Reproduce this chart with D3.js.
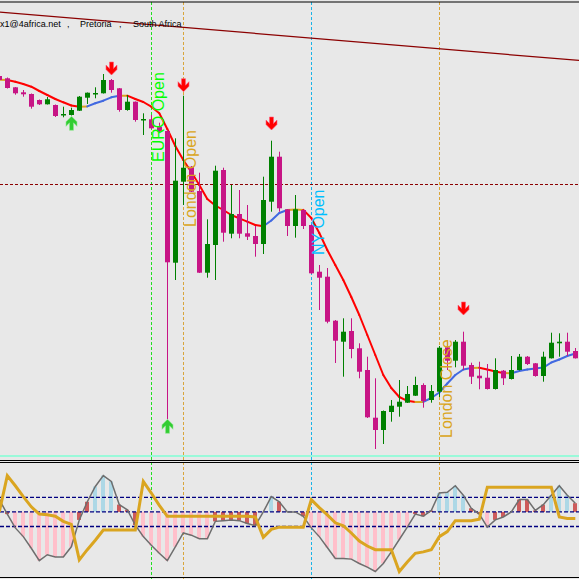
<!DOCTYPE html>
<html>
<head>
<meta charset="utf-8">
<script src="https://cdn.jsdelivr.net/npm/d3@7/dist/d3.min.js"></script>
<style>
  body { margin: 0; background: #e8e8e8; }
  svg { display: block; }
  text { font-family: 'Liberation Sans', Arial, sans-serif; }
</style>
</head>
<body>
<svg></svg>
<script>
// price data, one entry per bar
var opens  = [384,381.7,372.7,367.7,366,360,355.7,355,345,345,349.3,362.3,366.5,366.7,380,371.7,350,358.3,340.5,340.7,333.3,329,197.3,278.3,293.3,269,187.3,215,290,226.3,246,226.7,224,216,258.3,303.3,250.7,234,250,235,188.3,183.3,139.3,118.3,129,111.7,90,42.3,30,48,53.3,57.3,64.3,75,60,68.3,112.7,99.3,118.3,95,84.3,82.3,71,89.3,81,90,103.3,96.7,84,101.7,116.7,118.3,109]
var highs  = [386,382.5,373,370,366.5,360.5,363,355.5,353.3,352.3,364,367.5,372.7,386,381,372,365,358.5,346.7,345,337.3,330,321.7,364.3,294,287.3,240.7,294.3,292.3,275,270,255,234,283.3,319.3,308.3,251,265,250.5,235.5,195,192,140,141.7,141.7,116.7,103.3,81.7,49.5,60,80,74,83.3,76.7,75,114,120,120,128.3,97.3,98.3,96,101.7,90,104,106,104,97,108.3,127.3,126.7,127.3,112]
var lows   = [379,371.5,365.3,363.3,351.3,355,355.5,343,342.7,344.5,349,356,361.7,366.5,367.3,348.3,349.3,338.3,325,331,328,41,180,255,268,187,182.3,180,218.3,221.7,221.7,220,203.3,206,248.3,248.3,224,222.3,231,186,150,136.7,97,83.3,101.7,81.7,42,11,16,38.3,43.3,57,64,52.3,57.3,63,90,92.7,90,76,70.7,70.5,70.5,75,80.5,89.5,95,83.3,78.3,101.5,103.3,104,101.5]
var closes = [380,372,366.7,365.7,353.3,355.7,360.7,344,346,350,363.3,367.3,367,380,370,350,358.3,340,341,331.7,328.3,197.7,279.3,292.3,268.3,187.3,216,289.3,227.3,246,226.3,223.3,216,260,303.3,251.7,234,250.7,234,186.7,182.3,138.3,119.3,128.3,111,88.3,42.7,30,49,54.3,58.3,66,75,59,69,112.3,99.3,118.3,94.3,83.3,81.7,71,90,81.7,90,103.3,96,84,103.3,117.3,118.3,108.3,101.7]

// smoothed moving average
var maValues = [380.2,380,378.3,376,373.3,369,365,361,357.7,354.5,353.3,353.6,356.7,359.3,362.7,364.3,364.3,361,358,353.3,346.7,331,314,300,288,275,261,254.5,250,245,241.7,238.3,235,233.7,239.5,247,250,250.4,250.1,242,227,210,195,180,163,145,125,105,85,72,63,59.2,58.1,58.1,62,67.5,76.5,85,90.5,92,92.2,90.5,88.5,87,86.7,89,90.4,91.4,92.4,97.5,100.5,104,106.5]

// oscillator window
var oscGray = [17,-3,-22,-34,-50,-67,-59,-62,-62,-48,-11,14,35,50,42,10,3,-18,-34,-46,-57,-67,-48,-29,-32,-37,-37,-13,-12,-11,-12,-16,-19,0,21,14,0,0,-6,-22,-34,-49,-64,-64,-65,-71,-76,-82,-71,-55,-38,-21,-3,-6,2,26,27,36,23,5,-3,-21,-11,-7,0,17,17,2,10,23,36,23,12]
var oscGold = [0,50,36,21,7,-3,-4,-6,-13,-17,-66,-52,-39,-25,-25,-25,-25,-25,42,26,9,-6,-6,-6,-6,-6,-6,-6,-6,-6,-6,-6,-7,-35,-24,-21,-21,-21,-21,17,6,-4,-15,-19,-29,-40,-47,-52,-52,-52,-82,-69,-57,-55,-52,-34,-27,-12,-12,-12,-10,34,34,34,34,34,34,34,34,34,-7,-9,-9]
var oscLevels = [20, 0, -20]

// signals
var downArrowBars = [14, 23, 34, 58]
var downArrowPrices = [385, 368.3, 330, 145]
var upArrowBars = [9, 21]
var upArrowPrices = [343.7, 40.7]

// session markers
var sessionBars = [19, 23, 39, 55]
var sessionLabels = ['EURO Open', 'London Open', 'NY Open', 'London Close']

// other objects
var hLinePrice = 276
var trendBars = [0, 72.5]
var trendPrices = [448, 399.5]
var headerParts = ['x1@4africa.net', ',', 'Pretoria', ',', 'South Africa']

var svgWidth = 579, svgHeight = 579
var sessionColors = ['#00ff00', '#daa520', '#00bfff', '#daa520']
var lineColors = ['#22e022', '#d9a53a', '#1ab4e8', '#d9a53a']
var bullColor = '#008000', bearColor = '#c71585'

var svg = d3.select('svg')
    .attr('width', svgWidth)
    .attr('height', svgHeight)

svg.append('rect')
    .attr('width', svgWidth)
    .attr('height', svgHeight)
    .attr('fill', '#e8e8e8')

var bars = d3.range(opens.length)
var xScale = d3.scaleLinear().domain([0, 72]).range([-0.7, 575.3])
var yScale = d3.scaleLinear().domain([0, 460]).range([460, 0])
var oscScale = d3.scaleLinear().domain([-91, 66]).range([578, 464])
function px(i) { return Math.round(xScale(i)) }

var defs = svg.append('defs')
defs.append('clipPath').attr('id', 'mainClip')
    .append('rect').attr('x', 0).attr('y', 3).attr('width', svgWidth).attr('height', 452)
defs.append('clipPath').attr('id', 'oscClip')
    .append('rect').attr('x', 0).attr('y', 463).attr('width', svgWidth).attr('height', 115)

// session lines run through both windows
svg.selectAll('.session')
    .data(sessionBars)
    .enter()
    .append('line')
    .attr('class', 'session')
    .attr('x1', function(d) { return px(d) + 0.5 })
    .attr('x2', function(d) { return px(d) + 0.5 })
    .attr('y1', 2)
    .attr('y2', svgHeight)
    .attr('stroke', function(d, i) { return lineColors[i] })
    .attr('stroke-dasharray', '3,2')

var main = svg.append('g').attr('clip-path', 'url(#mainClip)')

// horizontal level
main.append('line')
    .attr('x1', 0).attr('x2', svgWidth)
    .attr('y1', Math.round(yScale(hLinePrice)) + 0.5)
    .attr('y2', Math.round(yScale(hLinePrice)) + 0.5)
    .attr('stroke', '#8b0000')
    .attr('stroke-dasharray', '3,2')

// trend line
main.append('line')
    .attr('x1', xScale(trendBars[0])).attr('y1', yScale(trendPrices[0]))
    .attr('x2', xScale(trendBars[1])).attr('y2', yScale(trendPrices[1]))
    .attr('stroke', '#8b0000')
    .attr('stroke-width', 1.2)

// moving average, coloured by slope
main.append('g')
    .selectAll('line')
    .data(d3.pairs(bars))
    .enter()
    .append('line')
    .attr('x1', function(d) { return xScale(d[0]) })
    .attr('y1', function(d) { return yScale(maValues[d[0]]) })
    .attr('x2', function(d) { return xScale(d[1]) })
    .attr('y2', function(d) { return yScale(maValues[d[1]]) })
    .attr('stroke', function(d) {
        var diff = maValues[d[1]] - maValues[d[0]]
        if (diff > 0.6) return '#4169e1'
        if (diff < -0.6) return '#ff0000'
        return '#daa520'
    })
    .attr('stroke-width', 2)
    .attr('stroke-linecap', 'round')

function candleColor(i) { return closes[i] >= opens[i] ? bullColor : bearColor }

// wicks
main.append('g')
    .selectAll('line')
    .data(bars)
    .enter()
    .append('line')
    .attr('x1', function(i) { return px(i) + 0.5 })
    .attr('x2', function(i) { return px(i) + 0.5 })
    .attr('y1', function(i) { return yScale(highs[i]) })
    .attr('y2', function(i) { return yScale(lows[i]) })
    .attr('stroke', candleColor)

// bodies
main.append('g')
    .selectAll('rect')
    .data(bars)
    .enter()
    .append('rect')
    .attr('x', function(i) { return px(i) - 2 })
    .attr('width', 5)
    .attr('y', function(i) { return yScale(Math.max(opens[i], closes[i])) })
    .attr('height', function(i) { return Math.max(1.5, Math.abs(yScale(opens[i]) - yScale(closes[i]))) })
    .attr('fill', candleColor)

// arrows (tip at 0,0)
var downPath = 'M-2,-13 L2,-13 L2,-6.5 L5.5,-10 L5.5,-5.5 L0,0 L-5.5,-5.5 L-5.5,-10 L-2,-6.5 Z'
var upPath = 'M-2,14 L2,14 L2,6.5 L5.5,10 L5.5,5.5 L0,0 L-5.5,5.5 L-5.5,10 L-2,6.5 Z'

main.selectAll('.down')
    .data(downArrowBars)
    .enter()
    .append('path')
    .attr('class', 'down')
    .attr('d', downPath)
    .attr('transform', function(d, i) { return 'translate(' + [px(d) + 0.5, yScale(downArrowPrices[i])] + ')' })
    .attr('fill', '#ff0000')
    .attr('stroke', '#ff5a7a')
    .attr('stroke-width', 0.6)

main.selectAll('.up')
    .data(upArrowBars)
    .enter()
    .append('path')
    .attr('class', 'up')
    .attr('d', upPath)
    .attr('transform', function(d, i) { return 'translate(' + [px(d) + 0.5, yScale(upArrowPrices[i])] + ')' })
    .attr('fill', '#32cd32')
    .attr('stroke', '#8fe88f')
    .attr('stroke-width', 0.6)

// session labels, rotated
var labelStart = [162, 227, 255, 438]
main.selectAll('.label')
    .data(sessionLabels)
    .enter()
    .append('text')
    .attr('class', 'label')
    .attr('transform', function(d, i) { return 'translate(' + [px(sessionBars[i]) + 13, labelStart[i]] + ') rotate(-90)' })
    .attr('font-size', 16)
    .attr('fill', function(d, i) { return sessionColors[i] })
    .text(function(d) { return d })

// header text
var headerX = [0, 67, 80, 119, 133]
svg.append('text')
    .attr('y', 27)
    .attr('font-size', 9)
    .attr('fill', '#000')
    .selectAll('tspan')
    .data(headerParts)
    .enter()
    .append('tspan')
    .attr('x', function(d, i) { return headerX[i] })
    .text(function(d) { return d })

// frame lines
svg.append('line').attr('x1', 0).attr('x2', svgWidth).attr('y1', 2).attr('y2', 2).attr('stroke', '#000')
svg.append('line').attr('x1', 0).attr('x2', svgWidth).attr('y1', 456).attr('y2', 456).attr('stroke', '#7fffd4').attr('stroke-width', 1.5)
svg.append('line').attr('x1', 0).attr('x2', svgWidth).attr('y1', 460.5).attr('y2', 460.5).attr('stroke', '#000')
svg.append('line').attr('x1', 0).attr('x2', svgWidth).attr('y1', 462.5).attr('y2', 462.5).attr('stroke', '#000')
svg.append('line').attr('x1', 0).attr('x2', svgWidth).attr('y1', 577.5).attr('y2', 577.5).attr('stroke', '#000')

// oscillator window
var osc = svg.append('g').attr('clip-path', 'url(#oscClip)')

osc.append('g')
    .selectAll('rect')
    .data(bars)
    .enter()
    .append('rect')
    .attr('x', function(i) { return px(i) - 2 })
    .attr('width', 4)
    .attr('y', function(i) { return oscScale(Math.max(oscGray[i], 0)) })
    .attr('height', function(i) { return Math.abs(oscScale(oscGray[i]) - oscScale(0)) })
    .attr('fill', function(i) {
        var v = oscGray[i]
        if (v > 20) return '#add8e6'
        if (v < -20) return '#ffc0cb'
        return '#cd5c5c'
    })

osc.selectAll('.level')
    .data(oscLevels)
    .enter()
    .append('line')
    .attr('class', 'level')
    .attr('x1', 0).attr('x2', svgWidth)
    .attr('y1', function(d) { return oscScale(d) })
    .attr('y2', function(d) { return oscScale(d) })
    .attr('stroke', '#000080')
    .attr('stroke-width', 1.4)
    .attr('stroke-dasharray', '4,2')

var grayLine = d3.line()
    .x(function(i) { return xScale(i) })
    .y(function(i) { return oscScale(oscGray[i]) })
var goldLine = d3.line()
    .x(function(i) { return xScale(i) })
    .y(function(i) { return oscScale(oscGold[i]) })

osc.append('path')
    .attr('d', grayLine(bars))
    .attr('fill', 'none')
    .attr('stroke', '#6e6e6e')
    .attr('stroke-width', 1.5)

osc.append('path')
    .attr('d', goldLine(bars))
    .attr('fill', 'none')
    .attr('stroke', '#daa520')
    .attr('stroke-width', 3)
</script>
</body>
</html>
